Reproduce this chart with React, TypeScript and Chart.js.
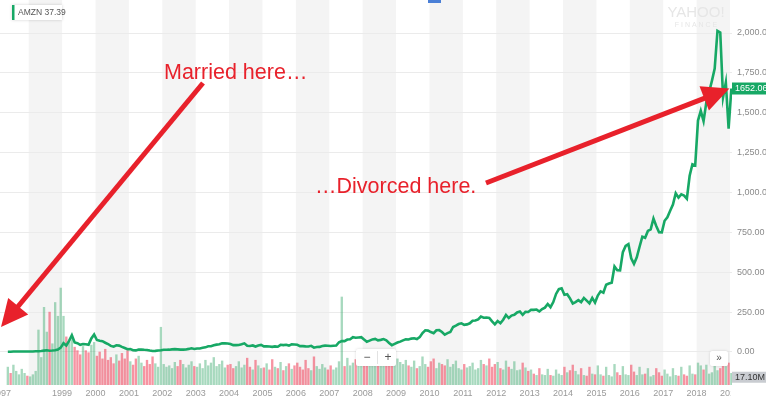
import React, { useEffect, useRef } from "react";
import { Chart, registerables } from "chart.js";

Chart.register(...registerables);

// ---- data -------------------------------------------------------------
const TICKER = "AMZN";
const LEGEND_VALUE = "37.39";
const FIRST_YEAR = 1997;
const FIRST_MONTH = 5; // first monthly point: May 1997

// monthly closing prices (USD), May 1997 .. Jan 2019
const prices: number[] = [
  // 1997 (May-Dec)
  1.7, 1.6, 2.6, 2.6, 3.3, 3.3, 3.5, 2.6,
  // 1998
  2.6, 3.3, 4.6, 5.0, 5.7, 8.4, 10.6, 8.2, 8.9, 10.5, 15.5, 27,
  // 1999
  55, 40, 70, 105, 60, 55, 45, 50, 48, 45, 85, 110,
  // 2000
  75, 70, 68, 58, 50, 38, 33, 42, 40, 32, 25, 17,
  // 2001
  18, 11, 10, 15, 16, 14, 12.5, 9, 6, 7, 9.5, 11,
  // 2002
  14, 14, 14.5, 16.5, 18, 16.3, 14.8, 15, 16, 19.4, 23.4, 19,
  // 2003
  22, 22, 26, 29, 36, 36, 42, 46, 48, 54, 55, 53,
  // 2004
  50, 43, 43, 44, 48, 54, 39, 38, 41, 34, 40, 44,
  // 2005
  35, 35, 34, 32, 35, 33, 45, 43, 45, 40, 48, 47,
  // 2006
  45, 37, 36.5, 35, 34.6, 38.7, 27, 31, 32, 38, 40, 39.5,
  // 2007
  38, 39, 40, 61, 69, 68, 78, 80, 93, 89, 91, 93,
  // 2008
  78, 64, 71, 79, 82, 73, 76, 81, 73, 57, 43, 51,
  // 2009
  59, 65, 73, 80, 78, 84, 86, 81, 93, 119, 136, 134,
  // 2010
  125, 118, 136, 137, 125, 109, 118, 125, 157, 165, 175, 180,
  // 2011
  170, 173, 180, 196, 197, 204, 222, 215, 216, 213, 192, 173,
  // 2012
  194, 180, 202, 232, 213, 228, 233, 248, 254, 233, 252, 251,
  // 2013
  265, 264, 266, 254, 269, 278, 301, 281, 313, 364, 394, 399,
  // 2014
  359, 362, 336, 304, 313, 325, 313, 339, 322, 305, 339, 310,
  // 2015
  354, 380, 372, 422, 429, 434, 536, 513, 512, 626, 665, 676,
  // 2016
  587, 552, 594, 660, 723, 716, 759, 769, 837, 790, 751, 750,
  // 2017
  823, 845, 886, 925, 995, 968, 988, 981, 961, 1105, 1177, 1170,
  // 2018
  1451, 1512, 1447, 1566, 1630, 1700, 1777, 2013, 2003, 1598, 1690, 1400,
  // 2019 (Jan)
  1652.06,
];

// monthly volume (millions of shares), same months
const volumes: number[] = [
  // 1997
  26, 17, 29, 20, 15, 23, 17, 13,
  // 1998
  12, 15, 20, 80, 40, 113, 77, 106, 60, 120, 100, 141,
  // 1999
  100, 70, 62, 66, 55, 50, 44, 56, 50, 47, 58, 62,
  // 2000
  42, 48, 38, 52, 36, 40, 31, 44, 35, 46, 38, 50,
  // 2001
  34, 29, 38, 42, 32, 27, 36, 30, 41, 31, 26, 84,
  // 2002
  30, 26, 28, 24, 33, 27, 36, 30, 25, 29, 34, 27,
  // 2003
  26, 31, 24, 36, 28, 32, 40, 27, 30, 35, 25, 29,
  // 2004
  30, 24, 27, 34, 25, 29, 39, 26, 22, 36, 28, 24,
  // 2005
  25, 31, 22, 37, 26, 24, 33, 21, 27, 31, 23, 28,
  // 2006
  32, 26, 22, 36, 24, 21, 41, 27, 23, 30, 25, 22,
  // 2007
  28, 22, 25, 34, 128, 27, 39, 28, 32, 37, 29, 35,
  // 2008
  40, 46, 36, 38, 30, 33, 43, 30, 39, 50, 45, 35,
  // 2009
  38, 33, 30, 36, 28, 26, 35, 24, 27, 41, 30, 26,
  // 2010
  34, 38, 24, 32, 30, 28, 37, 26, 30, 35, 24, 22,
  // 2011
  30, 25, 27, 32, 22, 24, 36, 30, 28, 38, 26, 30,
  // 2012
  33, 24, 22, 35, 26, 23, 34, 21, 22, 32, 25, 20,
  // 2013
  22, 16, 14, 24, 15, 14, 23, 14, 13, 22, 16, 14,
  // 2014
  26, 18, 21, 29, 20, 15, 24, 14, 13, 26, 16, 15,
  // 2015
  28, 15, 13, 26, 14, 12, 30, 18, 14, 27, 15, 14,
  // 2016
  29, 19, 14, 26, 15, 16, 24, 12, 14, 24, 18, 13,
  // 2017
  22, 16, 12, 24, 14, 13, 26, 15, 13, 28, 16, 15,
  // 2018
  32, 28, 22, 29, 16, 18, 30, 21, 24, 34, 27, 32,
  // 2019
  17.1,
];

const yearTicks = [1997, 1999, 2000, 2001, 2002, 2003, 2004, 2005, 2006, 2007, 2008,
  2009, 2010, 2011, 2012, 2013, 2014, 2015, 2016, 2017, 2018, 2019];
const priceTicks = [0, 250, 500, 750, 1000, 1250, 1500, 1750, 2000];
const LAST_VOLUME_LABEL = "17.10M";
const NOTE_MARRIED = "Married here\u2026";
const NOTE_DIVORCED = "\u2026Divorced here.";

// ---- derived ------------------------------------------------------------
const monthPos = prices.map((_, i) => FIRST_YEAR + (FIRST_MONTH - 1 + i + 0.5) / 12);
const priceData = prices.map((p, i) => ({ x: monthPos[i], y: p }));
const volumeData = volumes.map((v, i) => ({ x: monthPos[i], y: v }));
const volumeColors = prices.map((p, i) =>
  i === 0 || p >= prices[i - 1] ? "rgba(60,170,110,0.45)" : "rgba(240,60,85,0.55)"
);

const GREEN = "#17a865";
const RED = "#e8212b";
const FONT = '"Liberation Sans", Arial, Helvetica, sans-serif';

function drawArrow(ctx: CanvasRenderingContext2D, x1: number, y1: number, x2: number, y2: number) {
  const dx = x2 - x1, dy = y2 - y1;
  const len = Math.hypot(dx, dy);
  const ux = dx / len, uy = dy / len;
  const px = -uy, py = ux;
  const head = 27, half = 13;
  const bx = x2 - ux * head, by = y2 - uy * head;
  ctx.strokeStyle = RED;
  ctx.lineWidth = 5;
  ctx.lineCap = "butt";
  ctx.beginPath();
  ctx.moveTo(x1, y1);
  ctx.lineTo(bx + ux * 2, by + uy * 2);
  ctx.stroke();
  ctx.fillStyle = RED;
  ctx.beginPath();
  ctx.moveTo(x2, y2);
  ctx.lineTo(bx + px * half, by + py * half);
  ctx.lineTo(bx - px * half, by - py * half);
  ctx.closePath();
  ctx.fill();
}

function roundRect(ctx: CanvasRenderingContext2D, x: number, y: number, w: number, h: number, r: number) {
  ctx.beginPath();
  ctx.moveTo(x + r, y);
  ctx.lineTo(x + w - r, y);
  ctx.quadraticCurveTo(x + w, y, x + w, y + r);
  ctx.lineTo(x + w, y + h - r);
  ctx.quadraticCurveTo(x + w, y + h, x + w - r, y + h);
  ctx.lineTo(x + r, y + h);
  ctx.quadraticCurveTo(x, y + h, x, y + h - r);
  ctx.lineTo(x, y + r);
  ctx.quadraticCurveTo(x, y, x + r, y);
  ctx.closePath();
}

const overlayPlugin = {
  id: "overlay",
  beforeDraw(chart: any) {
    const { ctx, chartArea } = chart;
    const { left, right, top, bottom } = chartArea;
    const x = chart.scales.x;
    ctx.save();
    ctx.fillStyle = "#ffffff";
    ctx.fillRect(0, 0, chart.width, chart.height);
    ctx.beginPath();
    ctx.rect(left, top, right - left, bottom - top);
    ctx.clip();
    ctx.fillStyle = "#f4f4f4";
    for (let yr = 1996; yr <= 2020; yr += 2) {
      const a = x.getPixelForValue(yr);
      const b = x.getPixelForValue(yr + 1);
      ctx.fillRect(a, top, b - a, bottom - top);
    }
    ctx.restore();
  },
  afterDraw(chart: any) {
    const { ctx, chartArea } = chart;
    const { right, bottom } = chartArea;
    const x = chart.scales.x;
    const y = chart.scales.y;
    const yv = chart.scales.yv;
    ctx.save();

    // watermark
    ctx.fillStyle = "#e6e6e6";
    ctx.textAlign = "center";
    ctx.textBaseline = "middle";
    ctx.font = `15px ${FONT}`;
    ctx.fillText("YAHOO!", 696, 13);
    ctx.font = `7px ${FONT}`;
    ctx.fillText("F I N A N C E", 696, 25);

    // top blue tab
    ctx.fillStyle = "#4a7fd6";
    ctx.fillRect(428, 0, 13, 3);

    // y labels (right axis)
    ctx.fillStyle = "#8a8a8a";
    ctx.font = `9px ${FONT}`;
    ctx.textAlign = "left";
    ctx.textBaseline = "middle";
    priceTicks.forEach((v) => {
      const label = v.toLocaleString("en-US", { minimumFractionDigits: 2, maximumFractionDigits: 2 });
      ctx.fillText(label, right + 5, y.getPixelForValue(v));
    });

    // x labels
    ctx.save();
    ctx.beginPath();
    ctx.rect(0, bottom, right - 1, chart.height - bottom);
    ctx.clip();
    ctx.fillStyle = "#9a9a9a";
    ctx.font = `9px ${FONT}`;
    ctx.textAlign = "center";
    ctx.textBaseline = "middle";
    yearTicks.forEach((yr) => {
      const px = Math.max(x.getPixelForValue(yr), 1);
      ctx.fillText(String(yr), px, bottom + 9);
    });
    ctx.restore();

    // legend box
    ctx.save();
    ctx.shadowColor = "rgba(0,0,0,0.18)";
    ctx.shadowBlur = 3;
    ctx.fillStyle = "#ffffff";
    ctx.fillRect(12, 5, 50, 15);
    ctx.restore();
    ctx.fillStyle = GREEN;
    ctx.fillRect(12, 5, 2.5, 15);
    ctx.fillStyle = "#555";
    ctx.font = `8.5px ${FONT}`;
    ctx.textAlign = "left";
    ctx.textBaseline = "middle";
    ctx.fillText(`${TICKER} ${LEGEND_VALUE}`, 18, 13);

    // last price label
    const lastPrice = prices[prices.length - 1];
    const lp = y.getPixelForValue(lastPrice);
    ctx.fillStyle = GREEN;
    ctx.fillRect(right, lp - 6, chart.width - right, 12);
    ctx.fillStyle = "#ffffff";
    ctx.font = `9px ${FONT}`;
    ctx.fillText(lastPrice.toFixed(2), right + 3, lp);

    // last volume label
    const lastVol = volumes[volumes.length - 1];
    const lv = Math.min(yv.getPixelForValue(lastVol) + 4, bottom - 6);
    ctx.fillStyle = "#c9ccd1";
    ctx.fillRect(right, lv - 5.5, chart.width - right, 11);
    ctx.fillStyle = "#333";
    ctx.fillText(LAST_VOLUME_LABEL, right + 3, lv);

    // zoom control
    ctx.save();
    ctx.shadowColor = "rgba(0,0,0,0.15)";
    ctx.shadowBlur = 3;
    ctx.fillStyle = "#ffffff";
    roundRect(ctx, 356, 349, 40, 17, 2);
    ctx.fill();
    ctx.restore();
    ctx.strokeStyle = "#e2e2e2";
    ctx.lineWidth = 1;
    ctx.beginPath();
    ctx.moveTo(377.5, 351);
    ctx.lineTo(377.5, 364);
    ctx.stroke();
    ctx.fillStyle = "#555";
    ctx.font = `12px ${FONT}`;
    ctx.textAlign = "center";
    ctx.fillText("\u2212", 367, 357.5);
    ctx.fillText("+", 388, 357.5);

    // >> button
    ctx.save();
    ctx.shadowColor = "rgba(0,0,0,0.15)";
    ctx.shadowBlur = 3;
    ctx.fillStyle = "#ffffff";
    roundRect(ctx, 710, 351, 18, 15, 2);
    ctx.fill();
    ctx.restore();
    ctx.fillStyle = "#555";
    ctx.font = `10px ${FONT}`;
    ctx.fillText("\u00bb", 719, 358);

    // annotations
    ctx.fillStyle = RED;
    ctx.font = `21.5px ${FONT}`;
    ctx.textAlign = "left";
    ctx.textBaseline = "alphabetic";
    ctx.fillText(NOTE_MARRIED, 164, 79);
    ctx.fillText(NOTE_DIVORCED, 315, 193);
    drawArrow(ctx, 203, 83, 1, 327);
    drawArrow(ctx, 486, 183, x.getPixelForValue(monthPos[monthPos.length - 1]) - 2, lp);

    ctx.restore();
  },
};

export default function App() {
  const canvasRef = useRef<HTMLCanvasElement | null>(null);

  useEffect(() => {
    document.body.style.margin = "0";
    const canvas = canvasRef.current;
    if (!canvas) return;
    const chart = new Chart(canvas, {
      type: "bar",
      data: {
        datasets: [
          {
            type: "line",
            data: priceData,
            yAxisID: "y",
            borderColor: GREEN,
            borderWidth: 2.6,
            pointRadius: 0,
            tension: 0,
            order: 0,
          } as any,
          {
            type: "bar",
            data: volumeData,
            yAxisID: "yv",
            backgroundColor: volumeColors,
            barThickness: 1.7,
            order: 1,
          } as any,
        ],
      },
      options: {
        responsive: false,
        devicePixelRatio: 1,
        animation: false,
        layout: { padding: { left: 0, top: 0, bottom: 17, right: 0 } },
        plugins: { legend: { display: false }, tooltip: { enabled: false } },
        scales: {
          x: {
            type: "linear",
            min: 1997.14,
            max: 2019.06,
            offset: false,
            display: false,
          },
          y: {
            position: "right",
            min: -207,
            max: 2207,
            afterBuildTicks: (s: any) => {
              s.ticks = priceTicks.map((v) => ({ value: v }));
            },
            afterFit: (s: any) => {
              s.width = 34;
            },
            grid: { color: "#ebebeb", drawTicks: false, lineWidth: 1 },
            border: { display: false },
            ticks: { display: false },
          },
          yv: {
            position: "left",
            min: 0,
            max: 560,
            display: false,
          },
        },
      },
      plugins: [overlayPlugin],
    });
    return () => chart.destroy();
  }, []);

  return (
    <div style={{ width: 766, height: 402 }}>
      <canvas ref={canvasRef} width={766} height={402} style={{ display: "block" }} />
    </div>
  );
}
